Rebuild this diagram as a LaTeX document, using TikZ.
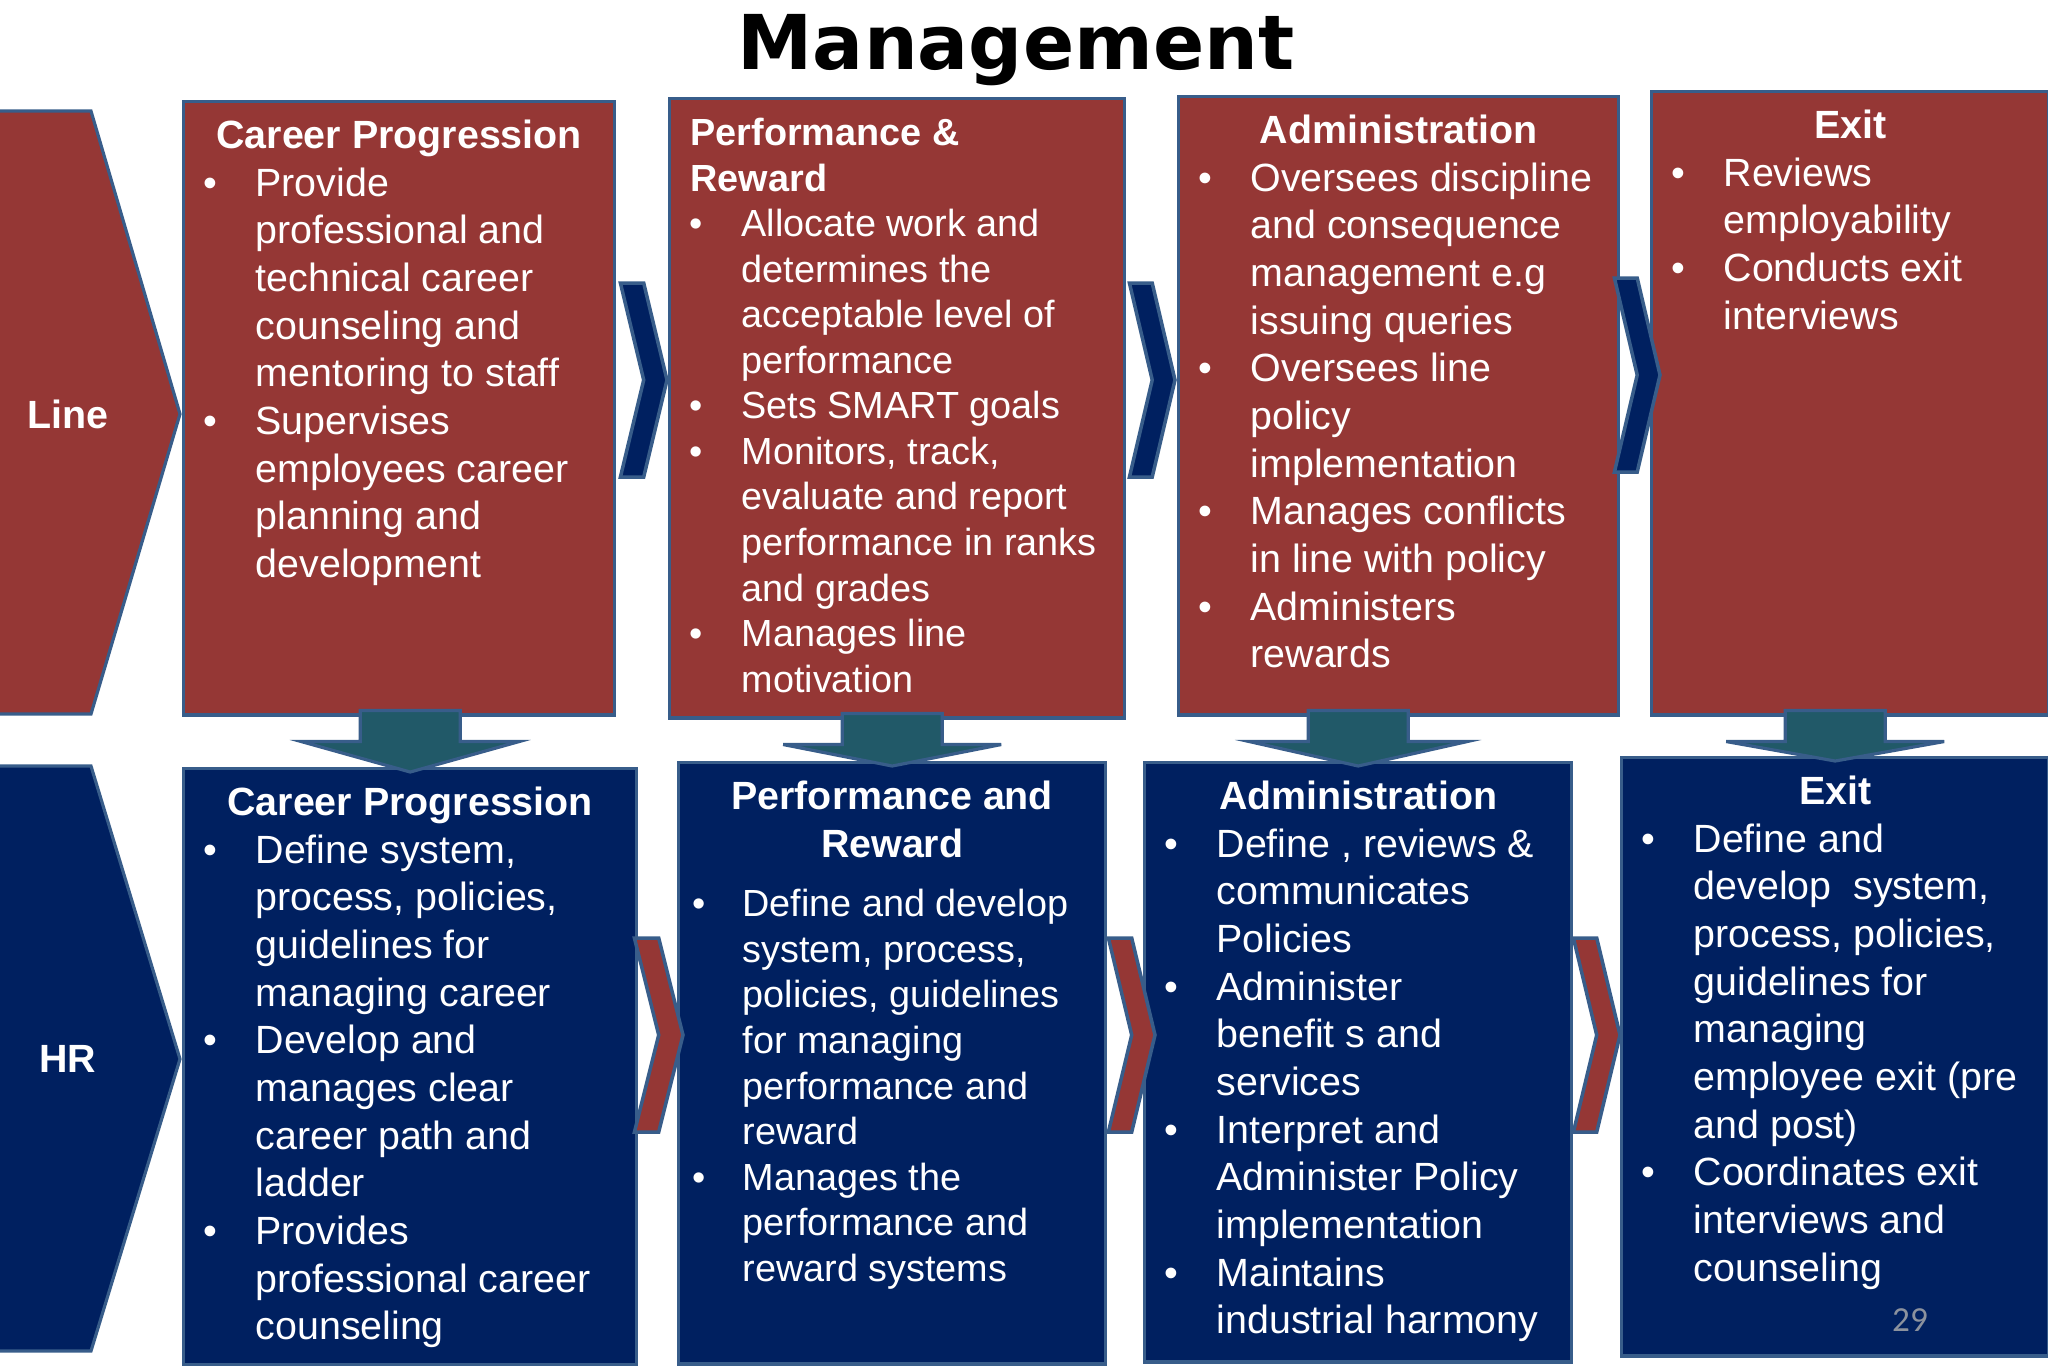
\documentclass[tikz,border=0pt]{standalone}
\usepackage{fontspec}
\setmainfont{Liberation Sans}
\newfontfamily\titlefont{DejaVu Sans}
\newfontfamily\numfont{Carlito}
\usepackage{xcolor}
\usepackage{tikz}
\usetikzlibrary{calc}

\definecolor{boxred}{HTML}{953735}
\definecolor{boxnavy}{HTML}{002060}
\definecolor{boxedge}{HTML}{385D8A}
\definecolor{arrteal}{HTML}{215968}
\definecolor{numgray}{HTML}{8C929E}

\newcommand\bigtxt{\fontsize{11.2}{13.55}\selectfont}
\newcommand\smalltxt{\fontsize{10.75}{12.95}\selectfont}
\newlength\bulind \setlength\bulind{0.10cm}
\newlength\itmind \setlength\itmind{0.62cm}
\newcommand\itm{\par\hangindent=\itmind\hangafter=1\noindent\makebox[\itmind][l]{\hspace*{\bulind}\textbullet}}
\newcommand\head[1]{{\centering\bfseries\rule{0pt}{0.37cm}#1\par}}
\newcommand\lhead[1]{{\bfseries\leftskip=0.11cm\rule{0pt}{0.37cm}#1\par}}
\newcommand\boxtext[3]{\begin{minipage}[t][#2][t]{#1}\raggedright\let\\\newline #3\par\end{minipage}}

% block arrow from an upper box down to the box below it
\newcommand\dnarr[2]{%
  \coordinate (ta) at (#2.north |- #1.south);
  \draw[downarr] ($(ta)+(-50,-6)$) -- ($(ta)+(50,-6)$) -- ($(ta)+(50,25)$) -- ($(ta)+(109,25)$)
    -- ($(#2.north)+(0,5)$) -- ($(ta)+(-109,25)$) -- ($(ta)+(-50,25)$) -- cycle;}

% chevron between two neighbour boxes
\newcommand\chev[6]{%
  \coordinate (cl) at ($(#2.east |- 0,#4)+(#5,0)$);
  \coordinate (cr) at ($(#3.west |- 0,#4)+(#6,0)$);
  \draw[#1] ($(cl)+(0,-97)$) -- ($(cl)!0.5!(cr)+(0,-97)$) -- (cr) -- ($(cl)!0.5!(cr)+(0,97)$)
    -- ($(cl)+(0,97)$) -- ($(cl)!0.5!(cr)$) -- cycle;}

\begin{document}
\begin{tikzpicture}
  [
    x=0.01cm, y=-0.01cm,
    redbox/.style={
       anchor=north west,
       fill=boxred,
       draw=boxedge,
       line width=0.9pt,
       text=white,
       inner sep=0.1cm
    },
    bluebox/.style={redbox, fill=boxnavy},
    sidered/.style={fill=boxred, draw=boxedge, line width=0.9pt},
    sideblue/.style={sidered, fill=boxnavy},
    side/.style={text=white, font=\bfseries\bigtxt},
    chevblue/.style={fill=boxnavy, draw=boxedge, line width=1pt},
    chevred/.style={chevblue, fill=boxred},
    downarr/.style={fill=arrteal, draw=boxedge, line width=0.9pt}
  ]
  \useasboundingbox (0,0) rectangle (2048,1365);

  \node (title) at (1016,69) [anchor=base, font=\titlefont\bfseries\fontsize{21.5}{26}\selectfont] {Management};

  % row labels
  \draw[sidered]  (-5,111) -- (91,111) -- (180,414) -- (91,714) -- (-5,714) -- cycle;
  \draw[sideblue] (-5,766) -- (91,766) -- (180,1059) -- (91,1351) -- (-5,1351) -- cycle;
  \node (line) at (68,414)  [side] {Line};
  \node (hr)   at (68,1059) [side] {HR};

  % line row
  \node (lcp) at (182,100) [redbox] {\boxtext{4.11cm}{5.93cm}{\bigtxt
    \head{Career Progression}
    \itm Provide\\professional and\\technical career\\counseling and\\mentoring to staff
    \itm Supervises\\employees career\\planning and\\development}};
  \node (lpr) at (668,97) [redbox] {\boxtext{4.35cm}{5.99cm}{\smalltxt
    \lhead{Performance \&\\Reward}
    \itm Allocate work and\\determines the\\acceptable level of\\performance
    \itm Sets SMART goals
    \itm Monitors, track,\\evaluate and report\\performance in ranks\\and grades
    \itm Manages line\\motivation}};
  \node (lad) at (1177,95) [redbox] {\boxtext{4.20cm}{5.98cm}{\bigtxt
    \head{Administration}
    \itm Oversees discipline\\and consequence\\management e.g\\issuing queries
    \itm Oversees line\\policy\\implementation
    \itm Manages conflicts\\in line with policy
    \itm Administers\\rewards}};
  \node (lex) at (1650,90) [redbox] {\boxtext{3.77cm}{6.03cm}{\bigtxt
    \head{Exit}
    \itm Reviews\\employability
    \itm Conducts exit\\interviews}};

  % hr row
  \node (hcp) at (182,767) [bluebox] {\boxtext{4.33cm}{5.76cm}{\bigtxt
    \head{Career Progression}
    \itm Define system,\\process, policies,\\guidelines for\\managing career
    \itm Develop and\\manages clear\\career path and\\ladder
    \itm Provides\\professional career\\counseling}};
  \node (hpr) at (677,761) [bluebox] {\boxtext{4.07cm}{5.81cm}{\bigtxt
    \head{Performance and\\Reward}
    \vspace{4pt}\smalltxt
    \setlength\bulind{0.04cm}\setlength\itmind{0.54cm}%
    \itm Define and develop\\system, process,\\policies, guidelines\\for managing\\performance and\\reward
    \itm Manages the\\performance and\\reward systems}};
  \node (had) at (1143,761) [bluebox] {\boxtext{4.07cm}{5.79cm}{\bigtxt
    \head{Administration}
    \itm Define , reviews \&\\communicates\\Policies
    \itm Administer\\benefit s and\\services
    \itm Interpret and\\Administer Policy\\implementation
    \itm Maintains\\industrial harmony}};
  \node (hex) at (1620,756) [bluebox] {\boxtext{4.07cm}{5.78cm}{\bigtxt
    \head{Exit}
    \itm Define and\\develop\ \ system,\\process, policies,\\guidelines for\\managing\\employee exit (pre\\and post)
    \itm Coordinates exit\\interviews and\\counseling}};
  \node (pg) at (1910,1320) [text=numgray, font=\numfont\fontsize{10}{12}\selectfont] {29};

  % chevrons between the steps
  \chev{chevblue}{lcp}{lpr}{380}{4}{-1}
  \chev{chevblue}{lpr}{lad}{380}{3}{-2}
  \chev{chevblue}{lad}{lex}{375}{-6}{10}
  \chev{chevred}{hcp}{hpr}{1035}{-4}{6}
  \chev{chevred}{hpr}{had}{1035}{1}{12}
  \chev{chevred}{had}{hex}{1035}{0}{0}

  % line to hr
  \dnarr{lcp}{hcp}
  \dnarr{lpr}{hpr}
  \dnarr{lad}{had}
  \dnarr{lex}{hex}
\end{tikzpicture}
\end{document}
